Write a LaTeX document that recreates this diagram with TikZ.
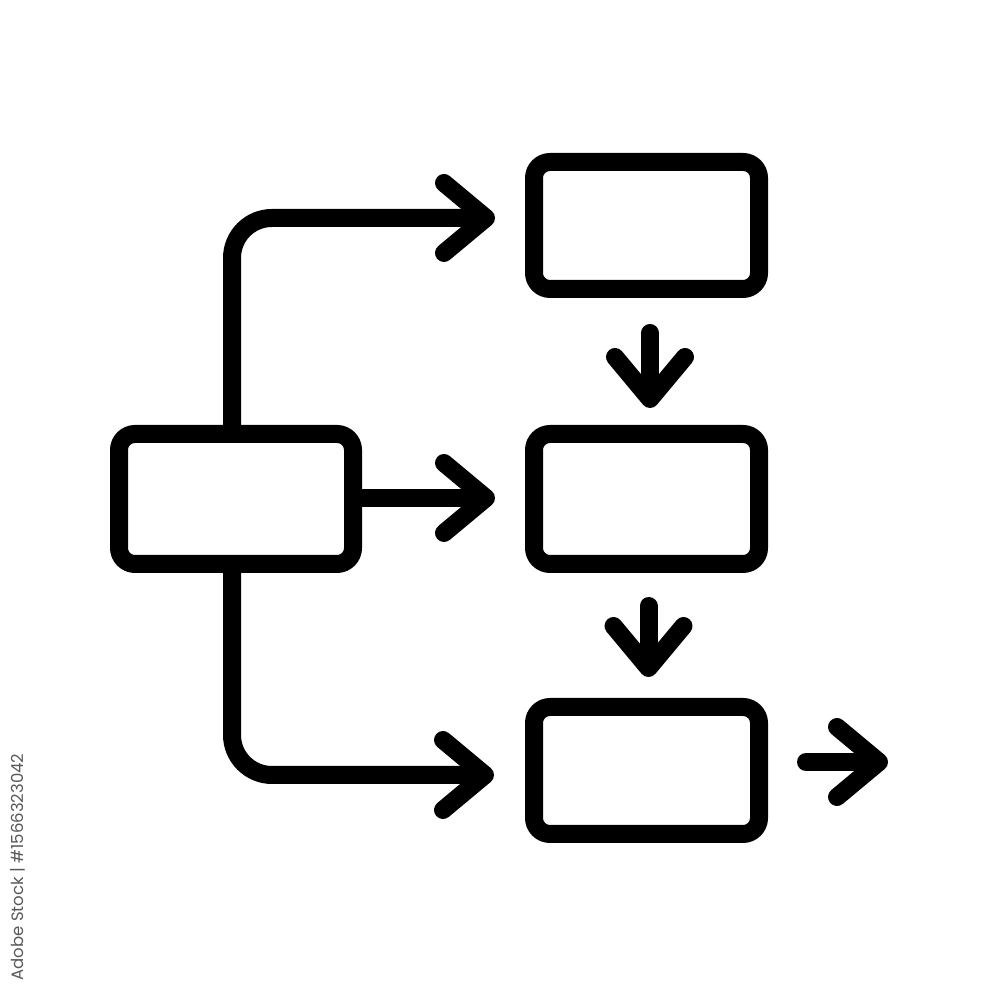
\documentclass[tikz,border=0pt]{standalone}
\usepackage{fontspec}
\newfontfamily\stockfont{Poppins}
\usetikzlibrary{arrows.meta,calc}
\begin{document}
\begin{tikzpicture}[
  icon/.style={line width=0.18cm, line cap=round, line join=round},
  boxnode/.style={icon, draw=black, rectangle, rounded corners=0.16cm, inner sep=0pt},
  flow/.style={icon, -{Straight Barb[length=4.2mm, width=7mm, round]}},
]
\useasboundingbox (0,0) rectangle (10,10);
\fill[white] (0,0) rectangle (10,10);
% boxes
\node[boxnode, minimum width=2.34cm, minimum height=1.30cm] (L) at (2.36,5.01) {};
\node[boxnode, minimum width=2.25cm, minimum height=1.27cm] (A) at (6.465,7.745) {};
\node[boxnode, minimum width=2.25cm, minimum height=1.30cm] (B) at (6.465,5.01) {};
\node[boxnode, minimum width=2.25cm, minimum height=1.27cm] (C) at (6.465,2.295) {};
% arrow end points
\coordinate (t1) at (4.95,7.82);
\coordinate (t2) at (4.95,5.02);
\coordinate (t3) at (4.94,2.25);
\coordinate (out) at (8.88,2.38);
% connectors
\draw[flow, rounded corners=0.4cm] ([xshift=-0.04cm]L.north) |- (t1);
\draw[flow] (L.east |- t2) -- (t2);
\draw[flow, rounded corners=0.4cm] ([xshift=-0.04cm]L.south) |- (t3);
\draw[flow, shorten <=0.35cm, shorten >=0.17cm] ([xshift=0.035cm]A.south) -- ([xshift=0.035cm]B.north);
\draw[flow, shorten <=0.33cm, shorten >=0.21cm] ([xshift=0.02cm]B.south) -- ([xshift=0.02cm]C.north);
\draw[flow, shorten <=0.38cm] (C.east |- out) -- (out);
% credit line
\node[rotate=90, text=black!65, font=\stockfont\fontsize{4.7pt}{6pt}\selectfont, inner sep=0pt] (credit) at (0.18,1.33) {Adobe Stock | \#1566323042};
\end{tikzpicture}
\end{document}
